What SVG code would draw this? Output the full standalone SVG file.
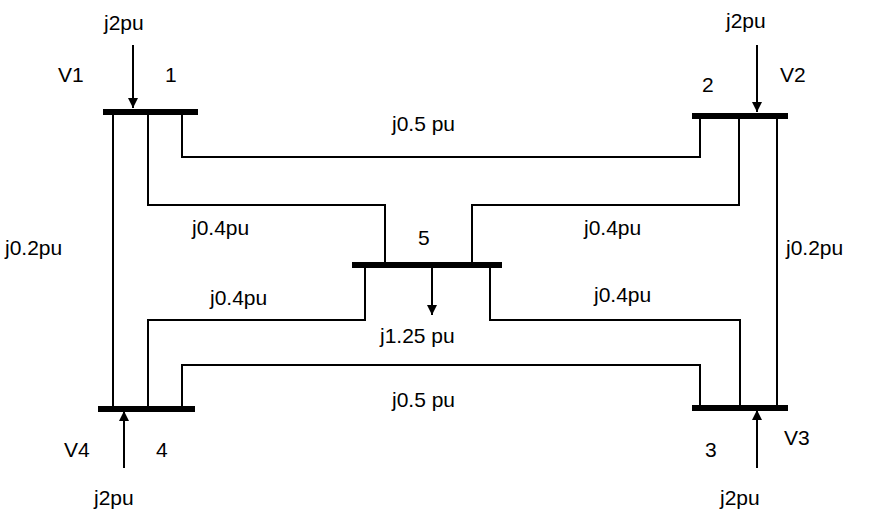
<svg xmlns="http://www.w3.org/2000/svg" width="870" height="525" viewBox="0 0 870 525">
<style>
.bus{stroke:#000;stroke-width:6}
.ln{fill:none;stroke:#000;stroke-width:2}
text{font-family:"Liberation Sans",Arial,sans-serif;font-size:21px;fill:#000}
</style>
<defs><marker id="ah" markerWidth="10" markerHeight="12" refX="10" refY="5" orient="auto" markerUnits="userSpaceOnUse"><path d="M0,0 L10,5 L0,10 z" fill="#000"/></marker></defs>
<rect width="870" height="525" fill="#fff"/>
<g id="connectors">
<path class="ln" d="M113,112 V409"/>
<path class="ln" d="M148,112 V205 H385 V265"/>
<path class="ln" d="M182,112 V157 H700 V116"/>
<path class="ln" d="M777,116 V408"/>
<path class="ln" d="M739,116 V205 H472 V265"/>
<path class="ln" d="M490,265 V320 H740 V408"/>
<path class="ln" d="M700,408 V365 H182 V409"/>
<path class="ln" d="M148,409 V320 H365 V265"/>
<path class="ln" d="M133,45 V108" marker-end="url(#ah)"/>
<path class="ln" d="M757,45 V112" marker-end="url(#ah)"/>
<path class="ln" d="M124,468 V411" marker-end="url(#ah)"/>
<path class="ln" d="M757,468 V410" marker-end="url(#ah)"/>
<path class="ln" d="M432,265 V315" marker-end="url(#ah)"/>
</g>
<g id="bus1"><line class="bus" x1="103" y1="112" x2="198" y2="112"/><text x="58" y="82">V1</text><text x="165" y="82">1</text><text x="104" y="30">j2pu</text></g>
<g id="bus2"><line class="bus" x1="692" y1="116" x2="788" y2="116"/><text x="702" y="92">2</text><text x="780" y="82">V2</text><text x="726" y="28">j2pu</text></g>
<g id="bus5"><line class="bus" x1="352" y1="265" x2="502" y2="265"/><text x="418" y="245">5</text><text x="380" y="343">j1.25 pu</text></g>
<g id="bus4"><line class="bus" x1="98" y1="409" x2="195" y2="409"/><text x="64" y="457">V4</text><text x="156" y="457">4</text><text x="94" y="505">j2pu</text></g>
<g id="bus3"><line class="bus" x1="692" y1="408" x2="788" y2="408"/><text x="705" y="457">3</text><text x="784" y="445">V3</text><text x="720" y="505">j2pu</text></g>
<g id="labels">
<text x="392" y="131">j0.5 pu</text>
<text x="192" y="235">j0.4pu</text>
<text x="584" y="235">j0.4pu</text>
<text x="5" y="255">j0.2pu</text>
<text x="786" y="255">j0.2pu</text>
<text x="210" y="305">j0.4pu</text>
<text x="594" y="302">j0.4pu</text>
<text x="392" y="407">j0.5 pu</text>
</g>
</svg>
